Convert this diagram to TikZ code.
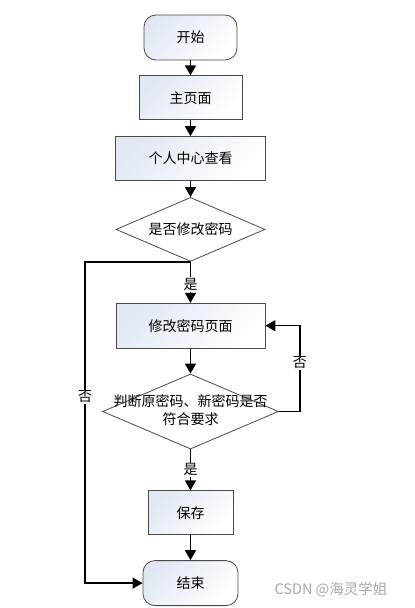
\documentclass[tikz,border=0pt]{standalone}
\usepackage{fontspec}
\setmainfont{Noto Sans CJK SC}
\usetikzlibrary{arrows.meta,positioning,shapes.geometric}
\definecolor{frame}{HTML}{4A4A4A}
\definecolor{paleblue}{HTML}{E1E8F4}
\definecolor{wmgray}{HTML}{A8A8A8}
\newcommand{\cjksize}{\fontsize{14}{18}\selectfont}
\tikzset{
  box/.style={draw=frame,line width=0.8pt,top color=paleblue,bottom color=white,shading angle=45,minimum height=44pt,inner sep=0pt,font=\cjksize},
  term/.style={box,rounded corners=12pt,minimum width=93pt,minimum height=45pt},
  dec/.style={diamond,draw=frame,fill=white,line width=0.8pt,inner sep=0pt,aspect=2.3,font=\cjksize},
  arr/.style={-{Triangle[length=10pt,width=11pt]},line width=1.4pt},
  lbl/.style={fill=white,inner sep=1pt,font=\cjksize},
}
\begin{document}
\begin{tikzpicture}
\useasboundingbox (0,0) rectangle (415pt,-608pt);
\node[term] (start) at (190.5pt,-37.5pt) {开始};
\node[box,minimum width=103pt,below=15pt of start] (home) {主页面};
\node[box,minimum width=150pt,below=16pt of home] (center) {个人中心查看};
\node[dec,minimum width=149pt,minimum height=64pt,below=16pt of center] (ask) {是否修改密码};
\node[box,minimum width=149pt,minimum height=45pt,below=41pt of ask] (modify) {修改密码页面};
\node[dec,minimum width=176pt,minimum height=75pt,below=25pt of modify] (check) {};
\node[align=center,font=\cjksize] (checktext) at ([yshift=1.5pt]check.center) {判断原密码、新密码是否\\符合要求};
\node[box,minimum width=85pt,below=41pt of check] (save) {保存};
\node[term,minimum width=95pt,below=25pt of save] (stop) {结束};
\draw[arr] (start) -- (home);
\draw[arr] (home) -- (center);
\draw[arr] (center) -- (ask);
\draw[arr] (ask) -- node[lbl,pos=0.55] {是} (modify);
\draw[arr] (modify) -- (check);
\draw[arr] (check) -- node[lbl] {是} (save);
\draw[arr] (save) -- (stop);
\draw[arr] (check.east) -- ++(21pt,0) |- node[lbl,pos=0.285] {否} (modify.east);
\draw[arr] (ask.south) -- ++(-105.5pt,0) |- node[lbl,pos=0.21] {否} (stop.west);
\node[text=wmgray,font=\fontsize{14.5}{16}\selectfont] (wm) at (331pt,-590pt) {CSDN @海灵学姐};
\end{tikzpicture}
\end{document}
